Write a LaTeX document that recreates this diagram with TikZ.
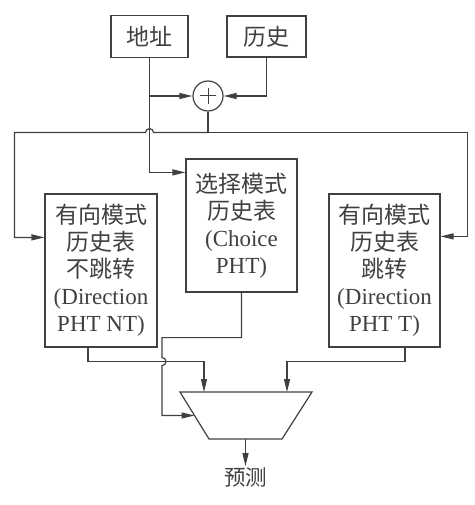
\documentclass[tikz,border=0pt]{standalone}
\usepackage{fontspec}
\setmainfont{Liberation Serif}
\newfontfamily\cjk{Noto Sans CJK SC}
\usetikzlibrary{arrows.meta,calc}
\definecolor{ink}{HTML}{404040}
\newcommand\zh[1]{{\cjk\fontsize{23}{27}\selectfont #1}}
\begin{document}
\begin{tikzpicture}[x=1pt,y=1pt,
  line/.style={draw=ink, line width=1.2pt},
  arr/.style={-{Triangle[length=13pt,width=6pt]}},
  box/.style={draw=ink, line width=1.2pt, text=ink, align=center, inner sep=0pt,
    font=\fontsize{23}{27}\selectfont}]
\useasboundingbox (0,0) rectangle (474,-505);

% nodes
\node[box, minimum width=77, minimum height=42] (addr) at (149.5,-36.5) {\zh{地址}};
\node[box, minimum width=79, minimum height=41] (hist) at (266.5,-36.5) {\zh{历史}};
\node[draw=ink, line width=1.2pt, circle, minimum size=30, inner sep=0pt] (xor) at (208,-96) {};
\draw[draw=ink, line width=1pt] ($(xor.center)+(-8,0)$) -- ($(xor.center)+(8,0)$)
  ($(xor.center)+(0,-8)$) -- ($(xor.center)+(0,8)$);

\node[box, minimum width=111, minimum height=133] (choice) at (241.5,-225.5)
  {\zh{选择模式}\\\zh{历史表}\\(Choice\\PHT)};
\node[box, minimum width=112, minimum height=153] (left) at (101,-270.5)
  {\zh{有向模式}\\\zh{历史表}\\\zh{不跳转}\\(Direction\\PHT NT)};
\node[box, minimum width=111, minimum height=153] (right) at (384.5,-270.5)
  {\zh{有向模式}\\\zh{历史表}\\\zh{跳转}\\(Direction\\PHT T)};

% selector (trapezoid)
\coordinate (tl) at (180,-392);
\coordinate (tr) at (312,-392);
\coordinate (br) at (282,-439);
\coordinate (bl) at (209,-439);
\draw[line] (tl) -- (tr) -- (br) -- (bl) -- cycle;
\node[text=ink, font=\cjk\fontsize{21.5}{25}\selectfont, inner sep=1pt] (pred) at (245.5,-477) {预测};

% helper coordinates
\path (xor.south) ++(0,-21) coordinate (bus);
\path (choice.north west) ++(0,-14) coordinate (cin);
\path (left.north west) ++(0,-44) coordinate (lin);
\path (right.north east) ++(0,-43) coordinate (rin);
\coordinate (tin) at ($(tl)!0.5!(bl)$);
\coordinate (tla) at ($(tl)!24/132!(tr)$);
\coordinate (tra) at ($(tl)!107/132!(tr)$);

% connectors
\draw[line,arr] (addr.south) |- (cin);
\draw[line,arr] (addr.south |- xor.west) -- (xor.west);
\draw[line,arr] (hist.south) |- (xor.east);
\draw[line] (xor.south) -- (bus);
\draw[line,arr] (bus) -- ($(addr.south |- bus)+(4,0)$)
  arc[start angle=0, end angle=180, radius=4pt]
  -- ($(lin |- bus)+(-30,0)$) |- (lin);
\draw[line,arr] (bus) -- ($(rin |- bus)+(27,0)$) |- (rin);

\draw[line,arr] (choice.south) -- ++(0,-45) -- ++(-79.5,0) coordinate (c2)
  -- ++(0,-20) arc[start angle=90, end angle=-90, radius=4pt]
  -- (c2 |- tin) -- (tin);
\draw[line,arr] ([xshift=-13pt]left.south) -- ++(0,-14) -| (tla);
\draw[line,arr] ([xshift=20.5pt]right.south) -- ++(0,-14) -| (tra);
\draw[line,arr] ($(bl)!0.5!(br)$) -- (pred.north);
\end{tikzpicture}
\end{document}
